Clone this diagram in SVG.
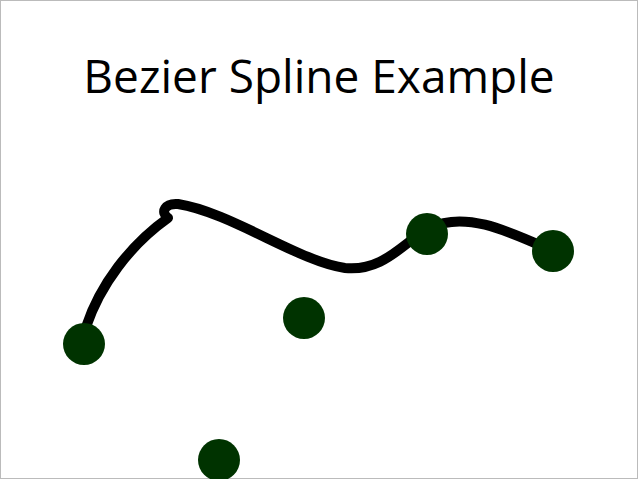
<svg xmlns="http://www.w3.org/2000/svg" width="638" height="479" viewBox="0 0 638 479">
<rect x="0.5" y="0.5" width="637" height="478" fill="#fff" stroke="#bbb"/>
<text x="319" y="93" text-anchor="middle" font-family="'Open Sans', 'Liberation Sans', sans-serif" font-size="46">Bezier Spline Example</text>
<path d="M86,327 C100,285 130,245 168,218 C160,212 165,203 178,204 C230,212 300,262 345,268 C385,272 405,240 430,228 C465,210 510,232 553,251" fill="none" stroke="#000" stroke-width="10" stroke-linejoin="round"/>
<g fill="#003300">
<circle cx="84" cy="344" r="21"/>
<circle cx="304" cy="318" r="21"/>
<circle cx="427" cy="234" r="21"/>
<circle cx="553" cy="251" r="21"/>
<circle cx="219" cy="460" r="21"/>
</g>
</svg>
